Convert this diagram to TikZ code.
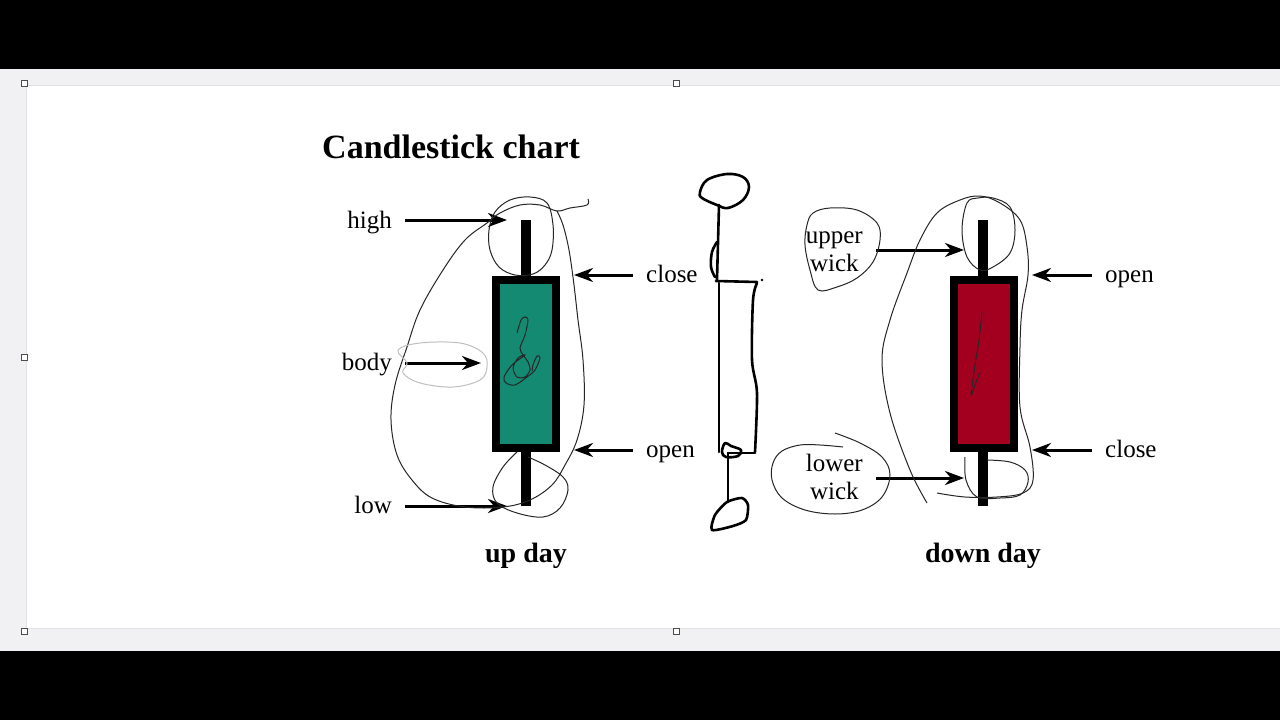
\documentclass[tikz,border=0pt]{standalone}
\usepackage{fontspec}
\setmainfont{Liberation Serif}
\usetikzlibrary{arrows.meta}
\definecolor{upgreen}{RGB}{20,138,114}
\definecolor{downred}{RGB}{163,0,32}
\definecolor{margingray}{RGB}{241,241,243}
\definecolor{edgegray}{RGB}{225,225,228}
\tikzset{
  lbl/.style={font=\fontsize{25}{28}\selectfont, inner ysep=0pt, inner xsep=13pt, align=center},
  ttl/.style={font=\fontsize{34}{40}\selectfont\bfseries, inner sep=0pt},
  daylbl/.style={font=\fontsize{28}{32}\selectfont\bfseries, inner sep=0pt},
  arr/.style={line width=3pt, -{Stealth[length=19pt,width=14pt,inset=6pt]}},
  wickbar/.style={fill=black, minimum width=10pt, minimum height=286pt, inner sep=0pt},
  candlebody/.style={draw=black, line width=8pt, minimum width=60pt, minimum height=168pt, inner sep=0pt},
  ink/.style={line width=1pt, black!85},
  faintink/.style={line width=1pt, black!25},
  penink/.style={line width=2.6pt, black, line cap=round, line join=round},
  handle/.style={draw=black!70, fill=white, line width=1pt, minimum size=6pt, inner sep=0pt},
}
\begin{document}
\begin{tikzpicture}[x=1pt,y=-1pt]
\useasboundingbox (0,0) rectangle (1280,720);
% screen background
\fill[black] (0,0) rectangle (1280,720);
\fill[margingray] (0,69) rectangle (1280,651);
\fill[white] (26,85) rectangle (1280,628);
\draw[edgegray, line width=1pt] (26,628) -- (26,85) -- (1280,85);
\draw[edgegray, line width=1pt] (26,628) -- (1280,628);
% selection handles
\node[handle] (h1) at (24,83) {};
\node[handle] (h2) at (676,83) {};
\node[handle] (h3) at (24,357) {};
\node[handle] (h4) at (24,631) {};
\node[handle] (h5) at (676,631) {};

% title
\node[ttl, anchor=base west] (title) at (322,158) {Candlestick chart};

% up day candle
\node[wickbar] (upwick) at (526,362.5) {};
\node[candlebody, fill=upgreen] (upbody) at (526,364) {};
\node[daylbl, anchor=base] (upday) at (526,562) {up day};

% down day candle
\node[wickbar] (downwick) at (983,363) {};
\node[candlebody, fill=downred] (downbody) at (984,364) {};
\node[daylbl, anchor=base] (downday) at (983,562) {down day};

% up day labels and arrows
\node[lbl, anchor=base east] (high) at (405,228) {high};
\node[lbl, anchor=base east] (body) at (405,370) {body};
\node[lbl, anchor=base east] (low) at (405,513) {low};
\node[lbl, anchor=base west] (upclose) at (633,282) {close};
\node[lbl, anchor=base west] (upopen) at (633,457) {open};
\coordinate (hightip) at (507,220);
\coordinate (bodytip) at (481,363);
\coordinate (lowtip) at (507,506);
\coordinate (upclosetip) at (574,275);
\coordinate (upopentip) at (574,450);
\draw[arr] (high.east |- hightip) -- (hightip);
\draw[arr] (body.east |- bodytip) -- (bodytip);
\draw[arr] (low.east |- lowtip) -- (lowtip);
\draw[arr] (upclose.west |- upclosetip) -- (upclosetip);
\draw[arr] (upopen.west |- upopentip) -- (upopentip);

% down day labels and arrows
\node[lbl, anchor=base east] (upper) at (876,271) {upper\\wick};
\node[lbl, anchor=base east] (lower) at (876,499) {lower\\wick};
\node[lbl, anchor=base west] (dnopen) at (1092,282) {open};
\node[lbl, anchor=base west] (dnclose) at (1092,457) {close};
\coordinate (uppertip) at (964,250);
\coordinate (lowertip) at (964,478);
\coordinate (dnopentip) at (1032,275);
\coordinate (dnclosetip) at (1032,450);
\draw[arr] (upper.east |- uppertip) -- (uppertip);
\draw[arr] (lower.east |- lowertip) -- (lowertip);
\draw[arr] (dnopen.west |- dnopentip) -- (dnopentip);
\draw[arr] (dnclose.west |- dnclosetip) -- (dnclosetip);

% ---- hand-drawn annotations: up day ----
\draw[ink] plot[smooth, tension=0.6] coordinates {(588,199) (587,205) (570,208) (557,211) (540,205) (520,205) (500,213) (487,223) (465,240) (443,270) (420,310) (407,347) (395,385) (391,420) (397,455) (412,480) (432,498) (465,507) (503,507) (530,500) (552,485) (565,465) (577,440) (584,405) (583,360) (578,320) (574,285) (569,250) (563,225) (557,211)};
\draw[ink] plot[smooth cycle, tension=0.6] coordinates {(530,197) (547,203) (553,225) (552,250) (545,265) (533,274) (515,275) (499,267) (490,250) (489,230) (495,212) (510,200)};
\draw[ink] plot[smooth, tension=0.6] coordinates {(517,452) (503,467) (493,487) (497,503) (517,513) (543,517) (560,508) (568,490) (563,477) (545,465) (528,457)};
\draw[faintink] plot[smooth cycle, tension=0.6] coordinates {(398,350) (420,343) (460,343) (483,353) (487,367) (480,380) (453,387) (420,383) (403,373) (407,363)};
\draw[ink] plot[smooth, tension=0.5] coordinates {(517,333) (521,320) (525,317) (528,320) (525,335) (520,348) (523,355) (528,362) (530,370) (525,377) (517,377) (513,368) (518,358) (525,355) (512,365) (504,377) (506,383) (515,385) (527,377) (535,370) (540,358) (537,356) (533,365) (532,371)};

% ---- hand-drawn candle in the middle ----
\draw[penink] plot[smooth cycle, tension=0.6] coordinates {(700,192) (707,180) (727,174) (743,177) (749,187) (743,200) (728,208) (717,205) (702,198)};
\draw[penink] (719,205) -- (717,280);
\draw[penink] plot[smooth, tension=0.6] coordinates {(717,242) (712,252) (711,267) (715,277)};
\draw[penink] (716,281) -- (757,282);
\draw[penink] (719,283) -- (719,452);
\draw[penink] plot[smooth, tension=0.5] coordinates {(757,283) (753,300) (752,360) (757,393) (755,452)};
\draw[penink] (755,453) -- (728,453);
\draw[penink] plot[smooth cycle, tension=0.6] coordinates {(725,443) (722,452) (726,457) (738,456) (741,450) (731,446)};
\draw[penink] (728,453) -- (728,502);
\draw[penink] plot[smooth cycle, tension=0.4] coordinates {(727,502) (742,498) (748,505) (746,520) (733,526) (712,530) (715,515)};
\fill (762,280) circle (1.3);

% ---- hand-drawn annotations: down day ----
\draw[ink] plot[smooth cycle, tension=0.6] coordinates {(813,213) (830,208) (857,210) (877,223) (880,240) (873,262) (857,278) (837,287) (818,290) (810,270) (805,245) (807,225)};
\draw[ink] plot[smooth, tension=0.6] coordinates {(843,447) (820,445) (800,445) (782,451) (773,463) (772,480) (782,498) (805,510) (835,514) (862,510) (882,497) (890,475) (882,457) (860,443) (835,433)};
\draw[ink] plot[smooth, tension=0.6] coordinates {(927,503) (910,470) (890,413) (882,360) (890,320) (907,273) (920,240) (937,213) (960,200) (980,196) (1000,203) (1020,220) (1027,247) (1028,275) (1022,310) (1020,347) (1020,407) (1030,447) (1033,480) (1023,493) (997,497) (965,497) (937,493)};
\draw[ink] plot[smooth cycle, tension=0.6] coordinates {(967,203) (962,230) (967,257) (980,270) (993,267) (1010,253) (1015,230) (1010,207) (993,198) (978,198)};
\draw[ink] plot[smooth, tension=0.6] coordinates {(965,457) (966,480) (977,497) (1000,498) (1020,495) (1028,482) (1025,470) (1010,462) (987,460)};
\draw[ink] plot[smooth, tension=0.5] coordinates {(982,312) (979,340) (975,365) (971,395) (975,385) (980,372)};
\end{tikzpicture}
\end{document}
